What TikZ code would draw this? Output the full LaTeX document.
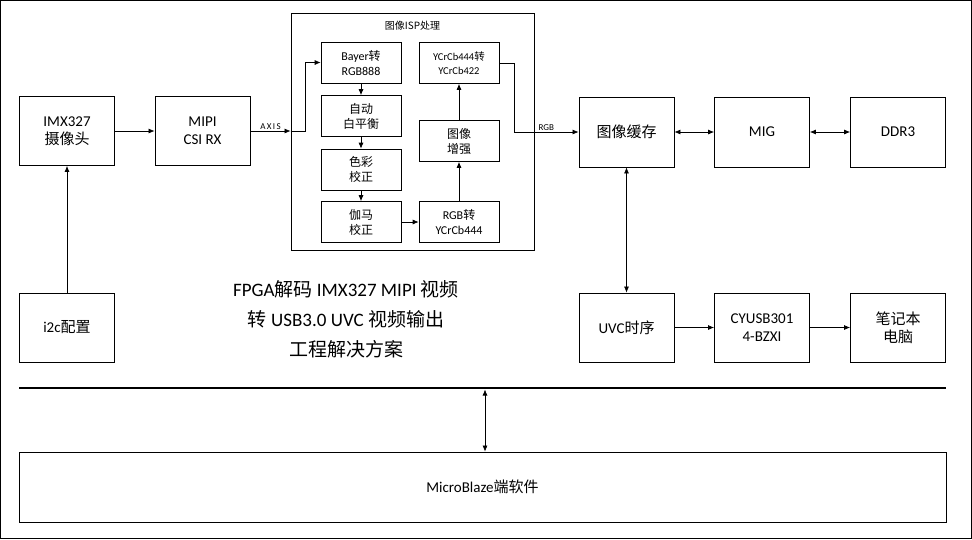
\documentclass[tikz,border=0pt]{standalone}
\usepackage{fontspec}
\setmainfont{Carlito}
\newfontfamily\cjk{Noto Sans CJK SC}
\usetikzlibrary{arrows.meta}
\begin{document}
\begin{tikzpicture}[x=1pt,y=-1pt,
 box/.style={draw,line width=0.8pt,minimum width=95pt,minimum height=69pt,inner sep=0pt,align=center,font=\fontsize{15}{18}\selectfont},
 sbox/.style={draw,line width=0.7pt,minimum width=80pt,minimum height=41pt,inner sep=0pt,align=center,font=\fontsize{12}{15}\selectfont},
 arr/.style={-{Latex[length=6pt,width=5pt]},line width=0.7pt},
 darr/.style={{Latex[length=6pt,width=5pt]}-{Latex[length=6pt,width=5pt]},line width=0.7pt},
 lab/.style={font=\fontsize{9}{10}\selectfont,inner sep=1pt}]
\useasboundingbox (0,0) rectangle (972,539);
\draw[line width=0.8pt] (0.5,0.5) rectangle (971,538);
\node[box] (imx) at (67,131) {IMX327\\{\cjk 摄像头}};
\node[box] (mipi) at (202.5,131) {MIPI\\CSI RX};
\node[draw,line width=0.8pt,minimum width=243pt,minimum height=237pt,inner sep=0pt] (isp) at (412.5,131.5) {};
\node[lab,font=\cjk\fontsize{10}{11}\selectfont] (isplab) at (412.5,26) {图像ISP处理};
\node[sbox] (bayer) at (361,62.5) {Bayer{\cjk 转}\\RGB888};
\node[sbox] (awb) at (361,116) {{\cjk 自动}\\{\cjk 白平衡}};
\node[sbox] (ccm) at (361,169.5) {{\cjk 色彩}\\{\cjk 校正}};
\node[sbox] (gam) at (361,222) {{\cjk 伽马}\\{\cjk 校正}};
\node[sbox,font=\fontsize{10.5}{14}\selectfont] (y422) at (459,63) {YCrCb444{\cjk 转}\\YCrCb422};
\node[sbox] (enh) at (459,141) {{\cjk 图像}\\{\cjk 增强}};
\node[sbox] (r2y) at (459,222) {RGB{\cjk 转}\\YCrCb444};
\node[box,minimum height=70pt] (buf) at (626.5,132) {{\cjk 图像缓存}};
\node[box,minimum height=70pt] (mig) at (762,132) {MIG};
\node[box,minimum height=70pt] (ddr) at (898,132) {DDR3};
\node[box] (i2c) at (67,327.5) {i2c{\cjk 配置}};
\node[box] (uvc) at (626.5,327.5) {UVC{\cjk 时序}};
\node[box] (cy) at (762,327.5) {CYUSB301\\4-BZXI};
\node[box] (pc) at (898,327.5) {{\cjk 笔记本}\\{\cjk 电脑}};
\node[align=center,font=\fontsize{19}{30}\selectfont] (title) at (346,319) {FPGA{\cjk 解码} IMX327 MIPI {\cjk 视频}\\{\cjk 转} USB3.0 UVC {\cjk 视频输出}\\{\cjk 工程解决方案}};
\coordinate (bl) at (19,388); \coordinate (br) at (946,388);
\draw[line width=2.5pt] (bl) -- (br);
\node[draw,line width=0.8pt,minimum width=927pt,minimum height=70pt,inner sep=0pt,font=\fontsize{15}{18}\selectfont] (mb) at (482.5,487) {MicroBlaze{\cjk 端软件}};
\coordinate (bus) at (485,389.5);
\draw[darr] (bus) -- (bus |- mb.north);
\draw[arr] (imx) -- (mipi);
\draw[arr] (mipi) -- node[lab,above,font=\fontsize{9}{10}\selectfont\addfontfeatures{LetterSpace=15}]{AXIS} (isp.west |- mipi);
\coordinate (j) at (305,131);
\draw[arr] (isp.west |- mipi) -- (j) |- (bayer.west);
\draw[arr] (bayer) -- (awb);
\draw[arr] (awb) -- (ccm);
\draw[arr] (ccm) -- (gam);
\draw[arr] (gam) -- (r2y);
\draw[arr] (r2y) -- (enh);
\draw[arr] (enh) -- (y422);
\coordinate (k) at (514,63);
\draw[arr] (y422.east) -- (k) |- node[lab,pos=0.75,above]{RGB} (buf.west);
\draw[darr] (buf) -- (mig);
\draw[darr] (mig) -- (ddr);
\draw[darr] (buf) -- (uvc);
\draw[arr] (uvc) -- (cy);
\draw[arr] (cy) -- (pc);
\draw[arr] (i2c) -- (imx);
\end{tikzpicture}
\end{document}
